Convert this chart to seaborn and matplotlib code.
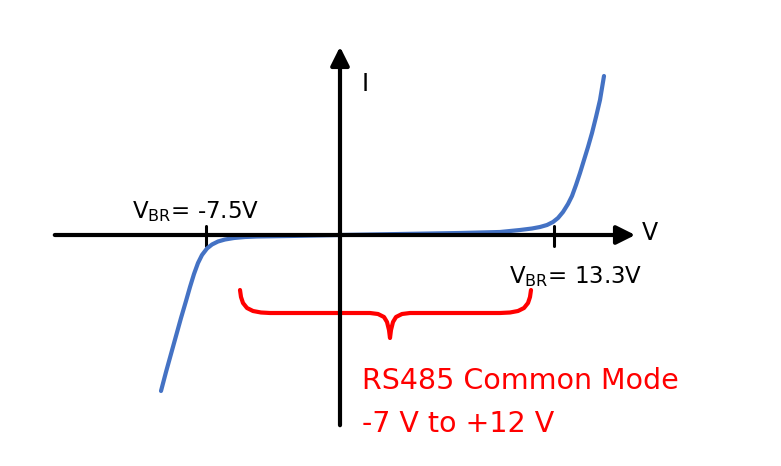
import matplotlib
matplotlib.use("Agg")
import matplotlib.pyplot as plt
import seaborn as sns
import pandas as pd

# I-V curve of the TVS diode (pixel-like coordinates)
curve_x = [161, 166, 171, 176, 181, 186, 190, 194, 198, 202, 207, 212, 218, 225, 234, 245, 257, 290, 340,
           400, 460, 500, 520, 532, 540, 547, 553, 558, 563, 568, 572, 576, 580, 584, 588, 592, 596, 600, 604]
curve_y = [391, 372, 354, 336, 318, 301, 287, 274, 263, 255, 248.5, 244.5, 241.5, 239.5, 238, 237, 236.5, 236, 235,
           234, 233, 232, 230, 228.5, 227, 225, 222, 218, 212, 204, 196, 185, 173, 160, 147, 133, 117, 100, 76]

# red brace under the axis
brace_x = [240, 241, 243, 247, 253, 261, 270, 370, 378, 384, 387, 389, 390, 391, 393, 396, 402, 410, 500, 510, 518, 524, 528, 530, 531]
brace_y = [290, 297, 303, 308, 311, 312.5, 313, 313, 314, 317, 322, 330, 338, 330, 322, 317, 314, 313, 313, 312.5, 311, 308, 303, 297, 290]

vbr_pos = [206, 554]
vbr_labels = ["V$_{\\mathregular{BR}}$= -7.5V", "V$_{\\mathregular{BR}}$= 13.3V"]

sns.set_style("white")
plt.rcParams["font.family"] = ["DejaVu Sans"]
plt.rcParams["text.color"] = "black"

fig = plt.figure(figsize=(7.81, 4.66), dpi=100)
ax = fig.add_axes([0, 0, 1, 1])
ax.set_xlim(0, 781)
ax.set_ylim(466, 0)
ax.axis("off")

# axes with arrows
ax.annotate("", xy=(638, 235), xytext=(52, 235),
            arrowprops=dict(arrowstyle="-|>", lw=3.0, color="black", mutation_scale=28))
ax.annotate("", xy=(340, 44), xytext=(340, 428),
            arrowprops=dict(arrowstyle="-|>", lw=3.0, color="black", mutation_scale=28))

# breakdown ticks
for xp in vbr_pos:
    ax.plot([xp, xp], [226, 246], color="black", lw=2.2)

df = pd.DataFrame({"v": curve_x, "i": curve_y})
sns.lineplot(data=df, x="v", y="i", sort=False, color="#4472C4", lw=3.0, ax=ax)

brace = pd.DataFrame({"x": brace_x, "y": brace_y})
sns.lineplot(data=brace, x="x", y="y", sort=False, color="#FF0000", lw=3.0, ax=ax)

ax.text(362, 91, "I", fontsize=17, color="black", ha="left", va="baseline")
ax.text(642, 240, "V", fontsize=17, color="black", ha="left", va="baseline")
ax.text(132, 218, vbr_labels[0], fontsize=16.5, color="black", ha="left", va="baseline")
ax.text(509, 283, vbr_labels[1], fontsize=16.5, color="black", ha="left", va="baseline")

ax.text(362, 389, "RS485 Common Mode", fontsize=20.5, color="#FF0000", ha="left", va="baseline")
ax.text(362, 432, "-7 V to +12 V", fontsize=20.5, color="#FF0000", ha="left", va="baseline")

fig.savefig("out.png", dpi=100)
